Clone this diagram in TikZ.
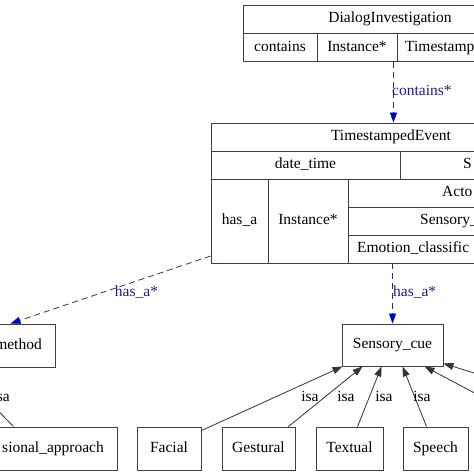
\documentclass[tikz,border=0pt]{standalone}
\usepackage{fontspec}
\setmainfont{Liberation Serif}
\usetikzlibrary{arrows.meta}
\definecolor{labblue}{RGB}{30,30,140}
\definecolor{relblue}{RGB}{45,45,110}
\definecolor{headblue}{RGB}{0,0,205}
\begin{document}
\begin{tikzpicture}[x=1pt,y=-1pt,
  every node/.style={font=\fontsize{15.5}{18}\selectfont, inner sep=0pt, text height=10.5pt, text depth=3.5pt},
  cell/.style={draw=black!75, line width=0.9pt, rectangle},
  lab/.style={text=labblue},
  hasrel/.style={draw=relblue, line width=0.8pt, dash pattern=on 6pt off 4pt, -{Triangle[length=10pt,width=7pt,color=headblue]}},
  isarel/.style={draw=black!80, line width=0.8pt, -{Triangle[length=10pt,width=7pt]}},
]
\clip (0,0) rectangle (474,474);
\fill[white] (0,0) rectangle (474,474);

% DialogInvestigation table
\node[cell, minimum width=294pt, minimum height=28pt] (ditop) at (390,19) {DialogInvestigation};
\node[cell, minimum width=74pt, minimum height=28.5pt] (dicont) at (280,47.5) {contains};
\node[cell, minimum width=80pt, minimum height=28.5pt] (diinst) at (357,47.5) {Instance*};
\node[cell, minimum width=140pt, minimum height=28.5pt] (dits) at (467,47.5) {};
\node[anchor=west] (ditstxt) at (405,47.5) {Timestamp};

% TimestampedEvent table
\node[cell, minimum width=360pt, minimum height=28pt] (tetop) at (391,137) {TimestampedEvent};
\node[cell, minimum width=189pt, minimum height=28pt] (tedate) at (305.5,165) {date\_time};
\node[cell, minimum width=171pt, minimum height=28pt] (tes) at (485.5,165) {};
\node[anchor=west] (testxt) at (463,165) {S};
\node[cell, minimum width=57pt, minimum height=84pt] (tehas) at (239.5,221) {has\_a};
\node[cell, minimum width=80pt, minimum height=84pt] (teinst) at (308,221) {Instance*};
\node[cell, minimum width=223pt, minimum height=28pt] (tea) at (459.5,193) {};
\node[anchor=west] (teatxt) at (442,193) {Acto};
\node[cell, minimum width=223pt, minimum height=28pt] (tesens) at (459.5,221) {};
\node[anchor=west] (tesenstxt) at (420,221) {Sensory\_};
\node[cell, minimum width=223pt, minimum height=28pt] (teemo) at (459.5,249) {};
\node[anchor=west] (teemotxt) at (357,249) {Emotion\_classific};

% middle row
\node[cell, minimum width=115pt, minimum height=43pt] (method) at (-2.5,345.5) {};
\node[anchor=east] (methodtxt) at (42,345.5) {method};
\node[cell, minimum width=101pt, minimum height=42pt] (sens) at (392.5,345) {Sensory\_cue};

% bottom row
\node[cell, minimum width=227pt, minimum height=43pt] (prof) at (3.5,448.5) {};
\node[anchor=east] (proftxt) at (104,448.5) {sional\_approach};
\node[cell, minimum width=64pt, minimum height=43pt] (facial) at (169,448.5) {Facial};
\node[cell, minimum width=73pt, minimum height=43pt] (gest) at (258.5,448.5) {Gestural};
\node[cell, minimum width=67pt, minimum height=43pt] (textual) at (349.5,448.5) {Textual};
\node[cell, minimum width=65pt, minimum height=43pt] (speech) at (435.5,448.5) {Speech};

% free ends
\coordinate (r1) at (482,397);
\coordinate (r2) at (482,375.5);
\coordinate (pfree) at (-20,392);

% relations
\draw[hasrel] ([xshift=-4pt]diinst.south east) -- ([xshift=-4pt]diinst.south east |- tetop.north);
\node[lab, anchor=west] (lcont) at (392,92) {contains*};
\draw[hasrel] ([yshift=-35pt]tehas.west) -- ([xshift=-45pt]method.north east);
\node[lab] (lhas1) at (136.5,293) {has\_a*};
\draw[hasrel] ([xshift=45pt]teemo.south west) -- ([xshift=45pt]teemo.south west |- sens.north);
\node[lab, anchor=west] (lhas2) at (393,293) {has\_a*};

% isa
\draw[isarel] ([yshift=-4pt]facial.north east) -- ([xshift=1pt]sens.south west);
\draw[isarel] ([xshift=-7pt]gest.north east) -- ([xshift=21pt]sens.south west);
\draw[isarel] ([xshift=42pt]textual.north west) -- ([xshift=40pt]sens.south west);
\draw[isarel] ([xshift=24pt]speech.north west) -- ([xshift=61pt]sens.south west);
\draw[isarel] (r1) -- ([xshift=83pt]sens.south west);
\draw[isarel] (r2) -- ([yshift=3pt]sens.south east);
\draw[isarel] ([xshift=-104pt]prof.north east) -- (pfree);
\node (i1) at (310,398) {isa};
\node (i2) at (346,398) {isa};
\node (i3) at (384,398) {isa};
\node (i4) at (422,398) {isa};
\node[anchor=east] (i0) at (10,398) {sa};
\end{tikzpicture}
\end{document}
